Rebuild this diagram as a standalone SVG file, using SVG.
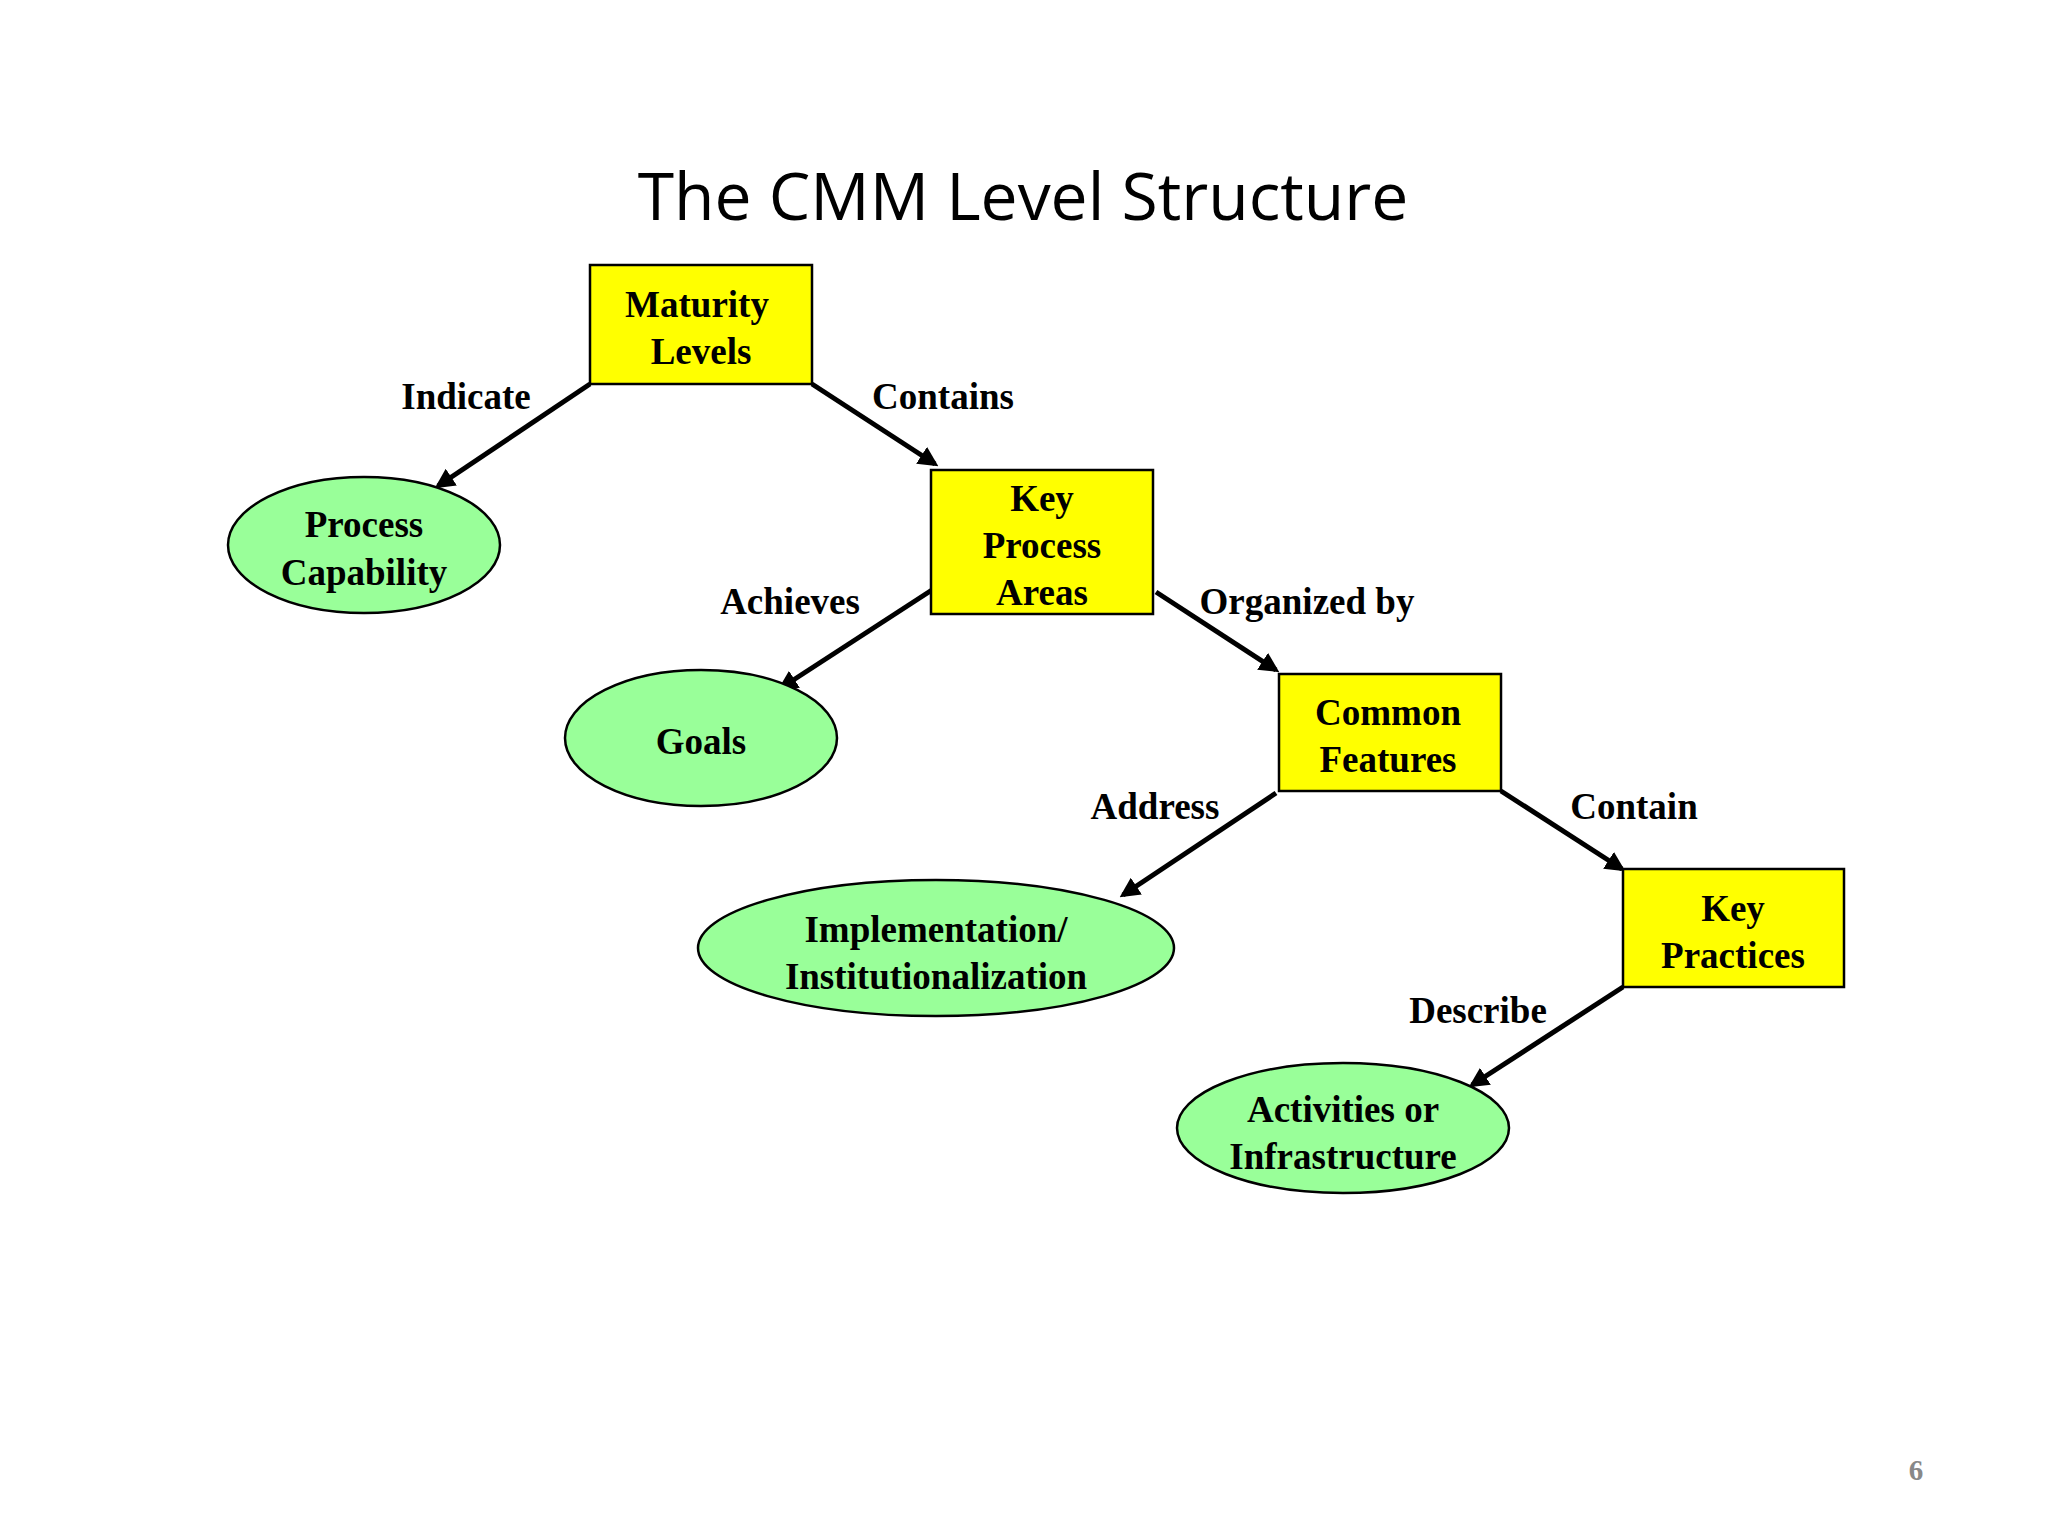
<svg xmlns="http://www.w3.org/2000/svg" width="2048" height="1536" viewBox="0 0 2048 1536">
<style>
.box{fill:#ffff00;stroke:#000;stroke-width:2.5}
.ell{fill:#99ff99;stroke:#000;stroke-width:2.5}
.t{font-family:"Liberation Serif",serif;font-weight:bold;font-size:37px;text-anchor:middle;fill:#000}
.c line{stroke:#000;stroke-width:5;marker-end:url(#a)}
</style>
<defs><marker id="a" viewBox="0 0 10 10" refX="8" refY="5" markerWidth="4" markerHeight="4" orient="auto"><path d="M0,0L10,5L0,10z" fill="#000"/></marker></defs>
<rect width="2048" height="1536" fill="#fff"/>
<text x="1023" y="220" font-family="Open Sans,Liberation Sans,sans-serif" font-size="66" text-anchor="middle">The CMM Level Structure</text>
<g class="c">
<line x1="590" y1="384" x2="438" y2="486"/>
<line x1="812" y1="384" x2="935" y2="464"/>
<line x1="935" y1="588" x2="781" y2="688"/>
<line x1="1156" y1="592" x2="1276" y2="670"/>
<line x1="1276" y1="793" x2="1123" y2="895"/>
<line x1="1501" y1="791" x2="1622" y2="869"/>
<line x1="1623" y1="987" x2="1472" y2="1085"/>
</g>
<g id="ml"><rect class="box" x="590" y="265" width="222" height="119"/><text class="t" x="697" y="317">Maturity</text><text class="t" x="701" y="364">Levels</text></g>
<g id="kpa"><rect class="box" x="931" y="470" width="222" height="144"/><text class="t" x="1042" y="511">Key</text><text class="t" x="1042" y="558">Process</text><text class="t" x="1042" y="605">Areas</text></g>
<g id="cf"><rect class="box" x="1279" y="674" width="222" height="117"/><text class="t" x="1388" y="725">Common</text><text class="t" x="1388" y="772">Features</text></g>
<g id="kp"><rect class="box" x="1623" y="869" width="221" height="118"/><text class="t" x="1733" y="921">Key</text><text class="t" x="1733" y="968">Practices</text></g>
<g id="pc"><ellipse class="ell" cx="364" cy="545" rx="136" ry="68"/><text class="t" x="364" y="537">Process</text><text class="t" x="364" y="585">Capability</text></g>
<g id="goals"><ellipse class="ell" cx="701" cy="738" rx="136" ry="68"/><text class="t" x="701" y="754">Goals</text></g>
<g id="impl"><ellipse class="ell" cx="936" cy="948" rx="238" ry="68"/><text class="t" x="936" y="942">Implementation/</text><text class="t" x="936" y="989">Institutionalization</text></g>
<g id="act"><ellipse class="ell" cx="1343" cy="1128" rx="166" ry="65"/><text class="t" x="1343" y="1122">Activities or</text><text class="t" x="1343" y="1169">Infrastructure</text></g>
<g id="labels">
<text class="t" x="466" y="409">Indicate</text>
<text class="t" x="943" y="409">Contains</text>
<text class="t" x="790" y="614">Achieves</text>
<text class="t" x="1307" y="614">Organized by</text>
<text class="t" x="1155" y="819">Address</text>
<text class="t" x="1634" y="819">Contain</text>
<text class="t" x="1478" y="1023">Describe</text>
</g>
<text x="1916" y="1480" font-family="Liberation Serif,serif" font-weight="bold" font-size="29" fill="#888" text-anchor="middle">6</text>
</svg>
